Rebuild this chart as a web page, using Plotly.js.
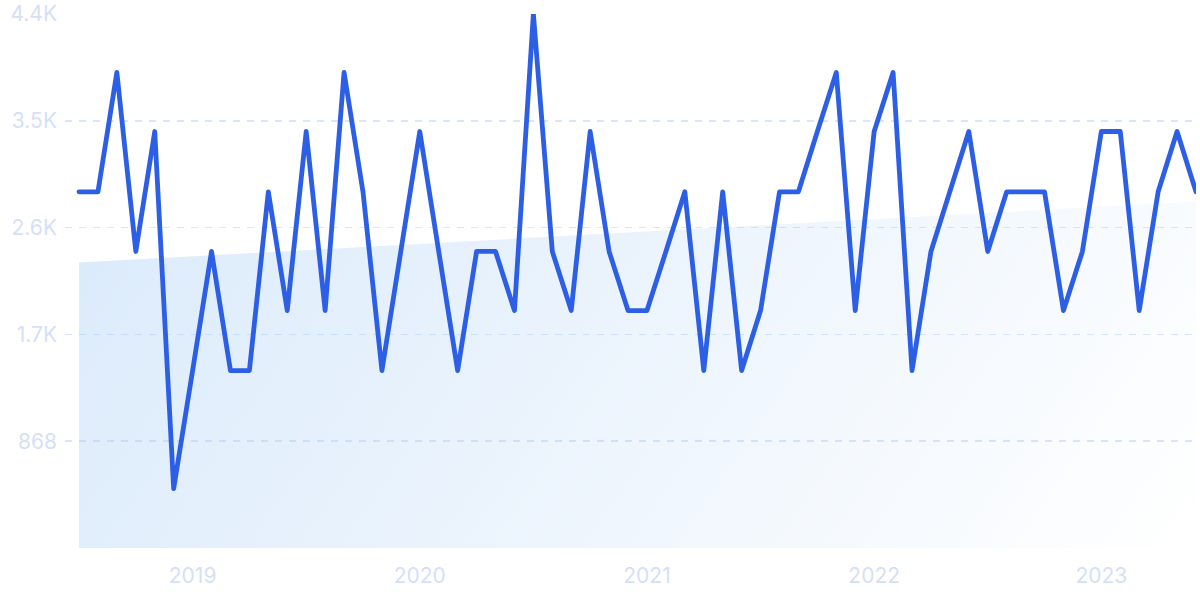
<!DOCTYPE html>
<html>
<head>
<meta charset="utf-8">
<script src="https://cdn.plot.ly/plotly-3.0.1.min.js"></script>
<style>
  html, body { margin: 0; padding: 0; background: #fff; }
</style>
</head>
<body>
<div id="chart" style="width:1200px;height:600px;"></div>
<script>
var months = [
  "2018-07","2018-08","2018-09","2018-10","2018-11","2018-12",
  "2019-01","2019-02","2019-03","2019-04","2019-05","2019-06","2019-07","2019-08","2019-09","2019-10","2019-11","2019-12",
  "2020-01","2020-02","2020-03","2020-04","2020-05","2020-06","2020-07","2020-08","2020-09","2020-10","2020-11","2020-12",
  "2021-01","2021-02","2021-03","2021-04","2021-05","2021-06","2021-07","2021-08","2021-09","2021-10","2021-11","2021-12",
  "2022-01","2022-02","2022-03","2022-04","2022-05","2022-06","2022-07","2022-08","2022-09","2022-10","2022-11","2022-12",
  "2023-01","2023-02","2023-03","2023-04","2023-05","2023-06"
];

var searches = [
  2895,2895,3865,2410,3385,482,
  1442,2410,1442,1442,2895,1930,3385,1930,3865,2895,1442,2410,
  3385,2410,1442,2410,2410,1930,4340,2410,1930,3385,2410,1930,
  1930,2410,2895,1442,2895,1442,1930,2895,2895,3385,3865,1930,
  3385,3865,1442,2410,2895,3385,2410,2895,2895,2895,1930,2410,
  3385,3385,1930,2895,3385,2895
];

var trendMonths = ["2018-07","2023-06"];
var trendValues = [2320,2816];

var yTicks = [868,1736,2604,3472,4340];
var yLabels = ["868","1.7K","2.6K","3.5K","4.4K"];
var xTicks = ["2019-01","2020-01","2021-01","2022-01","2023-01"];
var xLabels = ["2019","2020","2021","2022","2023"];

var trend = {
  x: trendMonths,
  y: trendValues,
  type: 'scatter',
  mode: 'lines',
  line: {width: 0},
  fill: 'tozeroy',
  fillcolor: 'rgba(167,205,245,0.2)',
  hoverinfo: 'skip',
  showlegend: false
};

var line = {
  x: months,
  y: searches,
  type: 'scatter',
  mode: 'lines',
  line: {color: '#2d5fe6', width: 4.8},
  cliponaxis: false,
  showlegend: false
};

var tickFont = {family: 'Inter, sans-serif', size: 21, color: '#d5dff7'};

var layout = {
  width: 1200,
  height: 600,
  margin: {l: 65, r: 4, t: 13.5, b: 52},
  paper_bgcolor: '#fff',
  plot_bgcolor: '#fff',
  xaxis: {
    type: 'category',
    categoryorder: 'array',
    categoryarray: months,
    range: [-0.74, 59],
    tickmode: 'array',
    tickvals: xTicks,
    ticktext: xLabels,
    tickangle: 0,
    ticks: '',
    showgrid: false,
    zeroline: false,
    showline: false,
    ticklabelstandoff: 13,
    tickfont: tickFont
  },
  yaxis: {
    range: [0, 4340],
    tickmode: 'array',
    tickvals: yTicks,
    ticktext: yLabels,
    ticks: '',
    gridcolor: '#d8e6fb',
    gridwidth: 1.5,
    griddash: '7px,7px',
    zeroline: false,
    showline: false,
    ticklabelstandoff: 7,
    tickfont: tickFont
  }
};

Plotly.newPlot('chart', [trend, line], layout, {displayModeBar: false, staticPlot: true}).then(function (gd) {
  // plotly only does horizontal/vertical fill gradients, the area fades diagonally
  var ns = 'http://www.w3.org/2000/svg';
  var grad = document.createElementNS(ns, 'linearGradient');
  grad.setAttribute('id', 'areaFade');
  grad.setAttribute('gradientUnits', 'userSpaceOnUse');
  grad.setAttribute('x1', 14);
  grad.setAttribute('y1', 248);
  grad.setAttribute('x2', 904);
  grad.setAttribute('y2', 862);
  [[0, 0.4], [1, 0]].forEach(function (s) {
    var stop = document.createElementNS(ns, 'stop');
    stop.setAttribute('offset', s[0]);
    stop.setAttribute('stop-color', 'rgb(167,205,245)');
    stop.setAttribute('stop-opacity', s[1]);
    grad.appendChild(stop);
  });
  gd.querySelector('.main-svg defs').appendChild(grad);
  var fill = gd.querySelector('.scatterlayer .js-fill');
  fill.style.fill = 'url(#areaFade)';
  fill.style.fillOpacity = 1;

  gd.querySelectorAll('.scatterlayer .js-line').forEach(function (p) {
    p.style.strokeLinejoin = 'round';
    p.style.strokeLinecap = 'round';
  });
});
</script>
</body>
</html>
